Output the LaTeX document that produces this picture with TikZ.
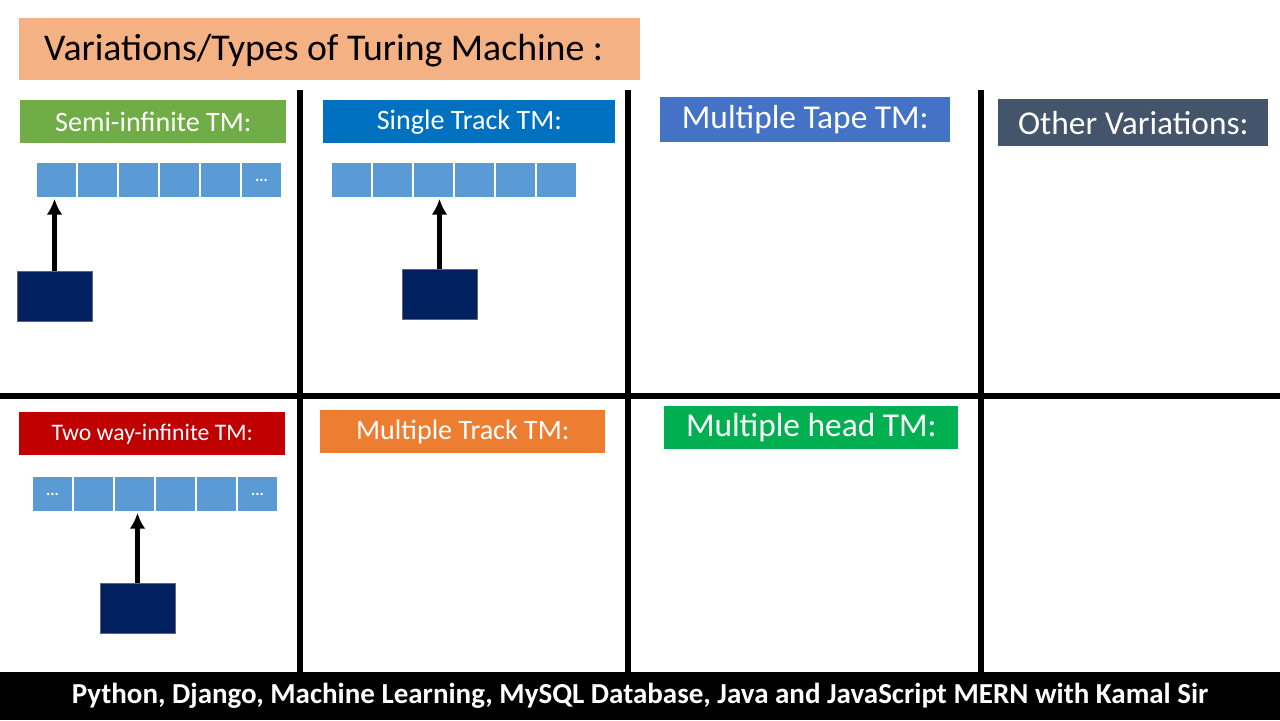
\documentclass[tikz,border=0pt]{standalone}
\usepackage{fontspec}
\setmainfont{Carlito}
\usetikzlibrary{positioning}
\usetikzlibrary{arrows.meta}
\definecolor{titleorange}{HTML}{F4B183}
\definecolor{semigreen}{HTML}{70AD47}
\definecolor{trackblue}{HTML}{0070C0}
\definecolor{tapeblue}{HTML}{4472C4}
\definecolor{slate}{HTML}{44546A}
\definecolor{twored}{HTML}{C00000}
\definecolor{multorange}{HTML}{ED7D31}
\definecolor{headgreen}{HTML}{00B050}
\definecolor{cellblue}{HTML}{5B9BD5}
\definecolor{navy}{HTML}{002060}
\tikzset{
  header/.style={fill=#1, text=white, inner sep=0pt, anchor=north west},
  cell/.style={fill=cellblue, draw=white, line width=1pt, minimum width=0.82cm, minimum height=0.72cm, inner sep=0pt, text=white, font=\fontsize{9}{9}\selectfont\bfseries},
  control/.style={fill=navy, draw=black!60, minimum width=1.5cm, minimum height=1cm, inner sep=0pt},
  head/.style={-{Latex[length=9pt,width=9pt]}, line width=3.2pt}
}
\begin{document}
\begin{tikzpicture}[x=0.02cm, y=-0.02cm]
      \useasboundingbox (0,0) rectangle (1280,720);
      \fill[white] (0,0) rectangle (1280,720);

      %% Title
      \node[header=titleorange, minimum width=12.42cm, minimum height=1.24cm] (title) at (19,18) {};
      \node[anchor=west, font=\fontsize{21.5}{21.5}\selectfont] (titletext) at (38,51) {Variations/Types of Turing Machine :};

      %% Grid
      \draw[line width=3pt] (0,396) -- (1280,396);
      \foreach \x in {300, 628, 981}
      {%
        \draw[line width=3pt] (\x,90) -- (\x,672);
      }

      %% Headers
      \node[header=semigreen, minimum width=5.32cm, minimum height=0.86cm, font=\fontsize{16}{16}\selectfont] (semi) at (20,100) {Semi-infinite TM:};
      \node[header=trackblue, minimum width=5.84cm, minimum height=0.86cm, font=\fontsize{16}{16}\selectfont] (single) at (323,100) {Single Track TM:};
      \node[header=tapeblue, minimum width=5.8cm, minimum height=0.9cm, font=\fontsize{19}{19}\selectfont] (multape) at (660,97) {Multiple Tape TM:};
      \node[header=slate, minimum width=5.4cm, minimum height=0.94cm, font=\fontsize{19}{19}\selectfont] (other) at (998,99) {Other Variations:};
      \node[header=twored, minimum width=5.32cm, minimum height=0.86cm, font=\fontsize{13.5}{13.5}\selectfont] (twoway) at (19,412) {Two way-infinite TM:};
      \node[header=multorange, minimum width=5.7cm, minimum height=0.86cm, font=\fontsize{16}{16}\selectfont] (multrack) at (320,410) {Multiple Track TM:};
      \node[header=headgreen, minimum width=5.88cm, minimum height=0.86cm, font=\fontsize{19}{19}\selectfont] (mulhead) at (664,406) {Multiple head TM:};

      %% Tapes
      \foreach \i in {0,...,5}
      {%
        \node[cell] (s\i) at ({36+20.5+41*\i},180) {\ifnum\i=5 ...\fi};
        \node[cell] (t\i) at ({331+20.5+41*\i},180) {};
        \node[cell] (w\i) at ({32+20.5+41*\i},494) {\ifnum\i=0 ...\fi\ifnum\i=5 ...\fi};
      }

      %% Finite controls and heads
      \node[control] (cs) at (54.5,296) {};
      \node[control] (ct) at (439.5,294) {};
      \node[control] (cw) at (137.5,608) {};
      \draw[head] (cs.north) -- (cs.north |- s0.south);
      \draw[head] (ct.north) -- (ct.north |- t2.south);
      \draw[head] (cw.north) -- (cw.north |- w2.south);

      %% Banner
      \fill[black] (0,672) rectangle (1280,720);
      \node[text=white, font=\fontsize{16.5}{16.5}\selectfont\bfseries] (banner) at (640,696) {Python, Django, Machine Learning, MySQL Database, Java and JavaScript MERN with Kamal Sir};
\end{tikzpicture}
\end{document}
